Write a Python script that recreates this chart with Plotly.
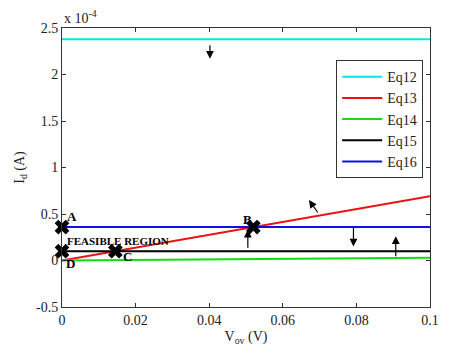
import plotly.graph_objects as go

# Data (Id in units of 1e-4 A)
x_line = [0.0, 0.1]
eq12 = [2.38, 2.38]
eq13 = [0.0, 0.69]
eq14 = [0.0, 0.03]
eq15 = [0.10, 0.10]
eq16 = [0.36, 0.36]

pt_names = ["A", "B", "C", "D"]
pt_x = [0.0, 0.052, 0.0145, 0.0]
pt_y = [0.36, 0.36, 0.10, 0.10]

# arrows: (tail_x, tail_y, head_x, head_y)
arrows = [
    (0.0402, 2.33, 0.0402, 2.17),
    (0.0698, 0.50, 0.0671, 0.65),
    (0.0505, 0.12, 0.0505, 0.33),
    (0.0792, 0.37, 0.0792, 0.15),
    (0.0907, 0.03, 0.0907, 0.26),
]

FONT = "Times New Roman, Liberation Serif, serif"

fig = go.Figure()
series = [("Eq12", eq12, "#00e5ee"), ("Eq13", eq13, "#ee1111"),
          ("Eq14", eq14, "#11dd11"), ("Eq15", eq15, "#000000"),
          ("Eq16", eq16, "#1111dd")]
for name, ys, col in series:
    fig.add_trace(go.Scatter(x=x_line, y=ys, mode="lines", name=name,
                             line=dict(color=col, width=2)))

fig.add_trace(go.Scatter(x=pt_x, y=pt_y, mode="markers", showlegend=False,
                         cliponaxis=False,
                         marker=dict(symbol="x", size=13, color="black",
                                     line=dict(width=0))))

label_off = {"A": (0.0028, 0.11), "B": (-0.0017, 0.08),
             "C": (0.0033, -0.06), "D": (0.0022, -0.13)}
for n, px, py in zip(pt_names, pt_x, pt_y):
    dx, dy = label_off[n]
    fig.add_annotation(x=px + dx, y=py + dy, text="<b>%s</b>" % n, showarrow=False,
                       font=dict(family=FONT, size=13, color="black"))

fig.add_annotation(x=0.0007, y=0.215, text="<b>FEASIBLE REGION</b>", showarrow=False,
                   xanchor="left", font=dict(family=FONT, size=11, color="black"))

for tx, ty, hx, hy in arrows:
    fig.add_annotation(x=hx, y=hy, ax=tx, ay=ty, xref="x", yref="y",
                       axref="x", ayref="y", showarrow=True, arrowhead=2,
                       arrowsize=1.3, arrowwidth=1.2, arrowcolor="black", text="")

fig.add_annotation(xref="paper", yref="paper", x=0, y=1.0, yanchor="bottom",
                   xanchor="left", text="x 10<sup>-4</sup>", showarrow=False,
                   font=dict(family=FONT, size=14, color="#222"))

axis_common = dict(showline=True, linecolor="#333", linewidth=1, mirror="ticks",
                   ticks="inside", ticklen=4, tickcolor="#333", showgrid=False,
                   zeroline=False, tickfont=dict(family=FONT, size=14, color="#222"))

fig.update_xaxes(range=[0, 0.1], tickvals=[0, 0.02, 0.04, 0.06, 0.08, 0.1],
                 ticktext=["0", "0.02", "0.04", "0.06", "0.08", "0.1"],
                 title=dict(text="V<sub>ov</sub> (V)", font=dict(family=FONT, size=14, color="#222"),
                            standoff=4), **axis_common)
fig.update_yaxes(range=[-0.5, 2.5], tickvals=[-0.5, 0, 0.5, 1, 1.5, 2, 2.5],
                 ticktext=["-0.5", "0", "0.5", "1", "1.5", "2", "2.5"],
                 title=dict(text="I<sub>d</sub> (A)", font=dict(family=FONT, size=14, color="#222"),
                            standoff=8), **axis_common)

fig.update_layout(
    width=474, height=354,
    margin=dict(l=62, r=44, t=28, b=43),
    plot_bgcolor="white", paper_bgcolor="white",
    font=dict(family=FONT),
    legend=dict(x=0.745, y=0.885, xanchor="left", yanchor="top",
                bordercolor="#333", borderwidth=1, bgcolor="white",
                font=dict(family=FONT, size=14, color="#222"),
                tracegroupgap=0, itemwidth=40),
    showlegend=True,
)

fig.write_html("out.html")
